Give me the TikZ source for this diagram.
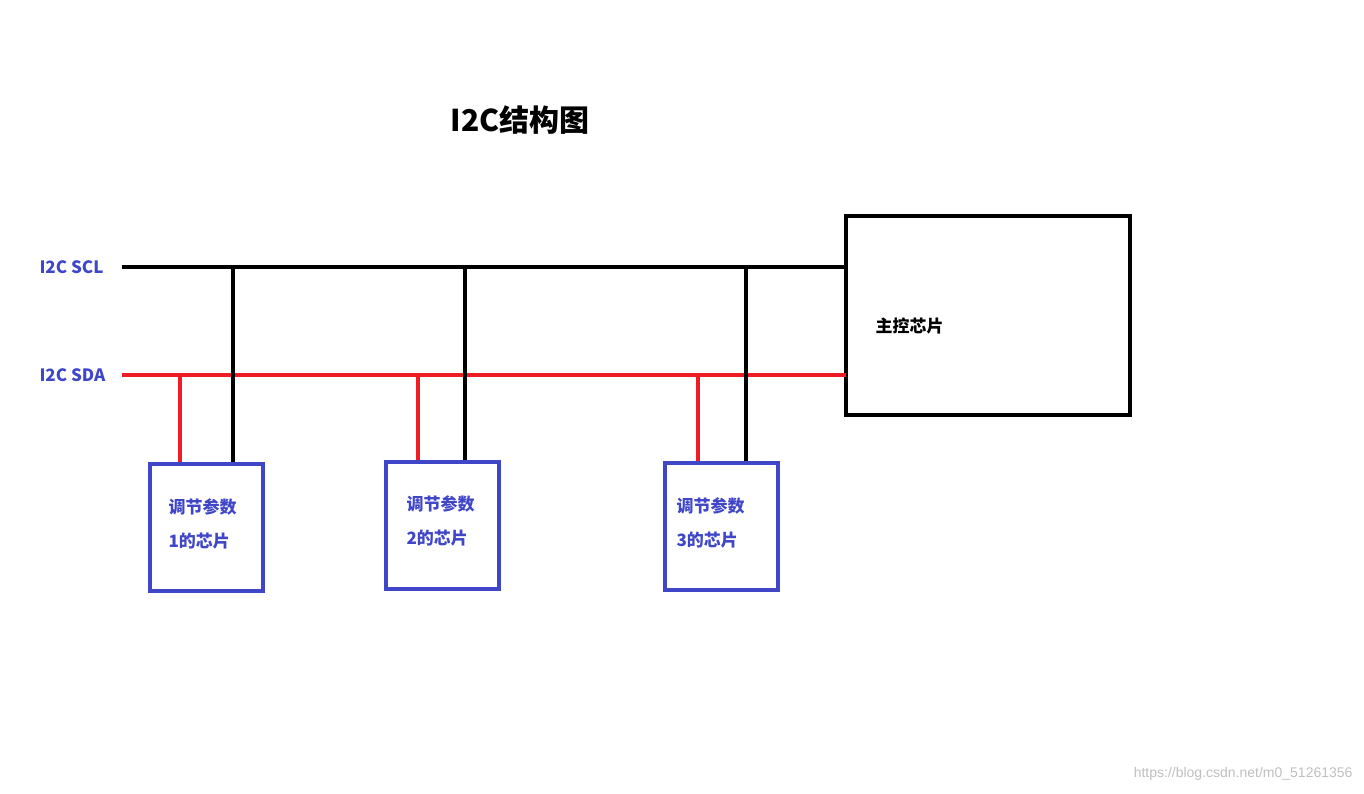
\documentclass[tikz,border=0pt]{standalone}
\usepackage{fontspec}
\setmainfont{Noto Sans CJK SC}
\newfontfamily\wm{Liberation Sans}
\definecolor{lblue}{HTML}{4046C8}
\definecolor{lred}{HTML}{EE1C25}
\begin{document}
\begin{tikzpicture}[x=1pt,y=-1pt,
  bus/.style={line width=4pt},
  blk/.style={bus,black},
  rd/.style={bus,lred},
  slave/.style={draw=lblue,line width=4pt,minimum width=113pt,minimum height=127pt,inner sep=0pt},
  slavetxt/.style={text=lblue,font=\bfseries\fontsize{17}{34}\selectfont,align=left,anchor=north west},
  lbl/.style={text=lblue,font=\bfseries\fontsize{17}{20}\selectfont}]
\useasboundingbox (0,0) rectangle (1364,793);
\node[font=\bfseries\fontsize{30}{36}\selectfont] (title) at (520,120) {I2C结构图};
\node[lbl,anchor=west] (scl) at (36,267) {I2C SCL};
\node[lbl,anchor=west] (sda) at (36,375) {I2C SDA};
\node[draw,line width=4pt,minimum width=284pt,minimum height=199pt,inner sep=0pt] (m) at (988,315.5) {};
\node[font=\bfseries\fontsize{17}{20}\selectfont,anchor=west] (mt) at (872,326) {主控芯片};
\coordinate (sclL) at (122,267); \coordinate (sclR) at (846,267);
\coordinate (sdaL) at (122,375); \coordinate (sdaR) at (846,375);
\coordinate (d1) at (180,375); \coordinate (c1) at (233,267);
\coordinate (d2) at (418,375); \coordinate (c2) at (465,267);
\coordinate (d3) at (698,375); \coordinate (c3) at (746,267);
\draw[rd] (sdaL) -- (sdaR);
\draw[blk] (sclL) -- (sclR);
\node[slave] (s1) at (206.5,527.5) {};
\node[slave] (s2) at (442.5,525) {};
\node[slave] (s3) at (721.5,526.5) {};
\node[slavetxt] at (165,495) {调节参数\\1的芯片};
\node[slavetxt] at (403,492) {调节参数\\2的芯片};
\node[slavetxt] at (673,494) {调节参数\\3的芯片};
\draw[rd] (d1) -- (d1|-s1.north);
\draw[blk] (c1) -- (c1|-s1.north);
\draw[rd] (d2) -- (d2|-s2.north);
\draw[blk] (c2) -- (c2|-s2.north);
\draw[rd] (d3) -- (d3|-s3.north);
\draw[blk] (c3) -- (c3|-s3.north);
\node[text=black!25,font=\wm\fontsize{14}{16}\selectfont,anchor=east] (wm) at (1356,774) {https://blog.csdn.net/m0\_51261356};
\end{tikzpicture}
\end{document}
